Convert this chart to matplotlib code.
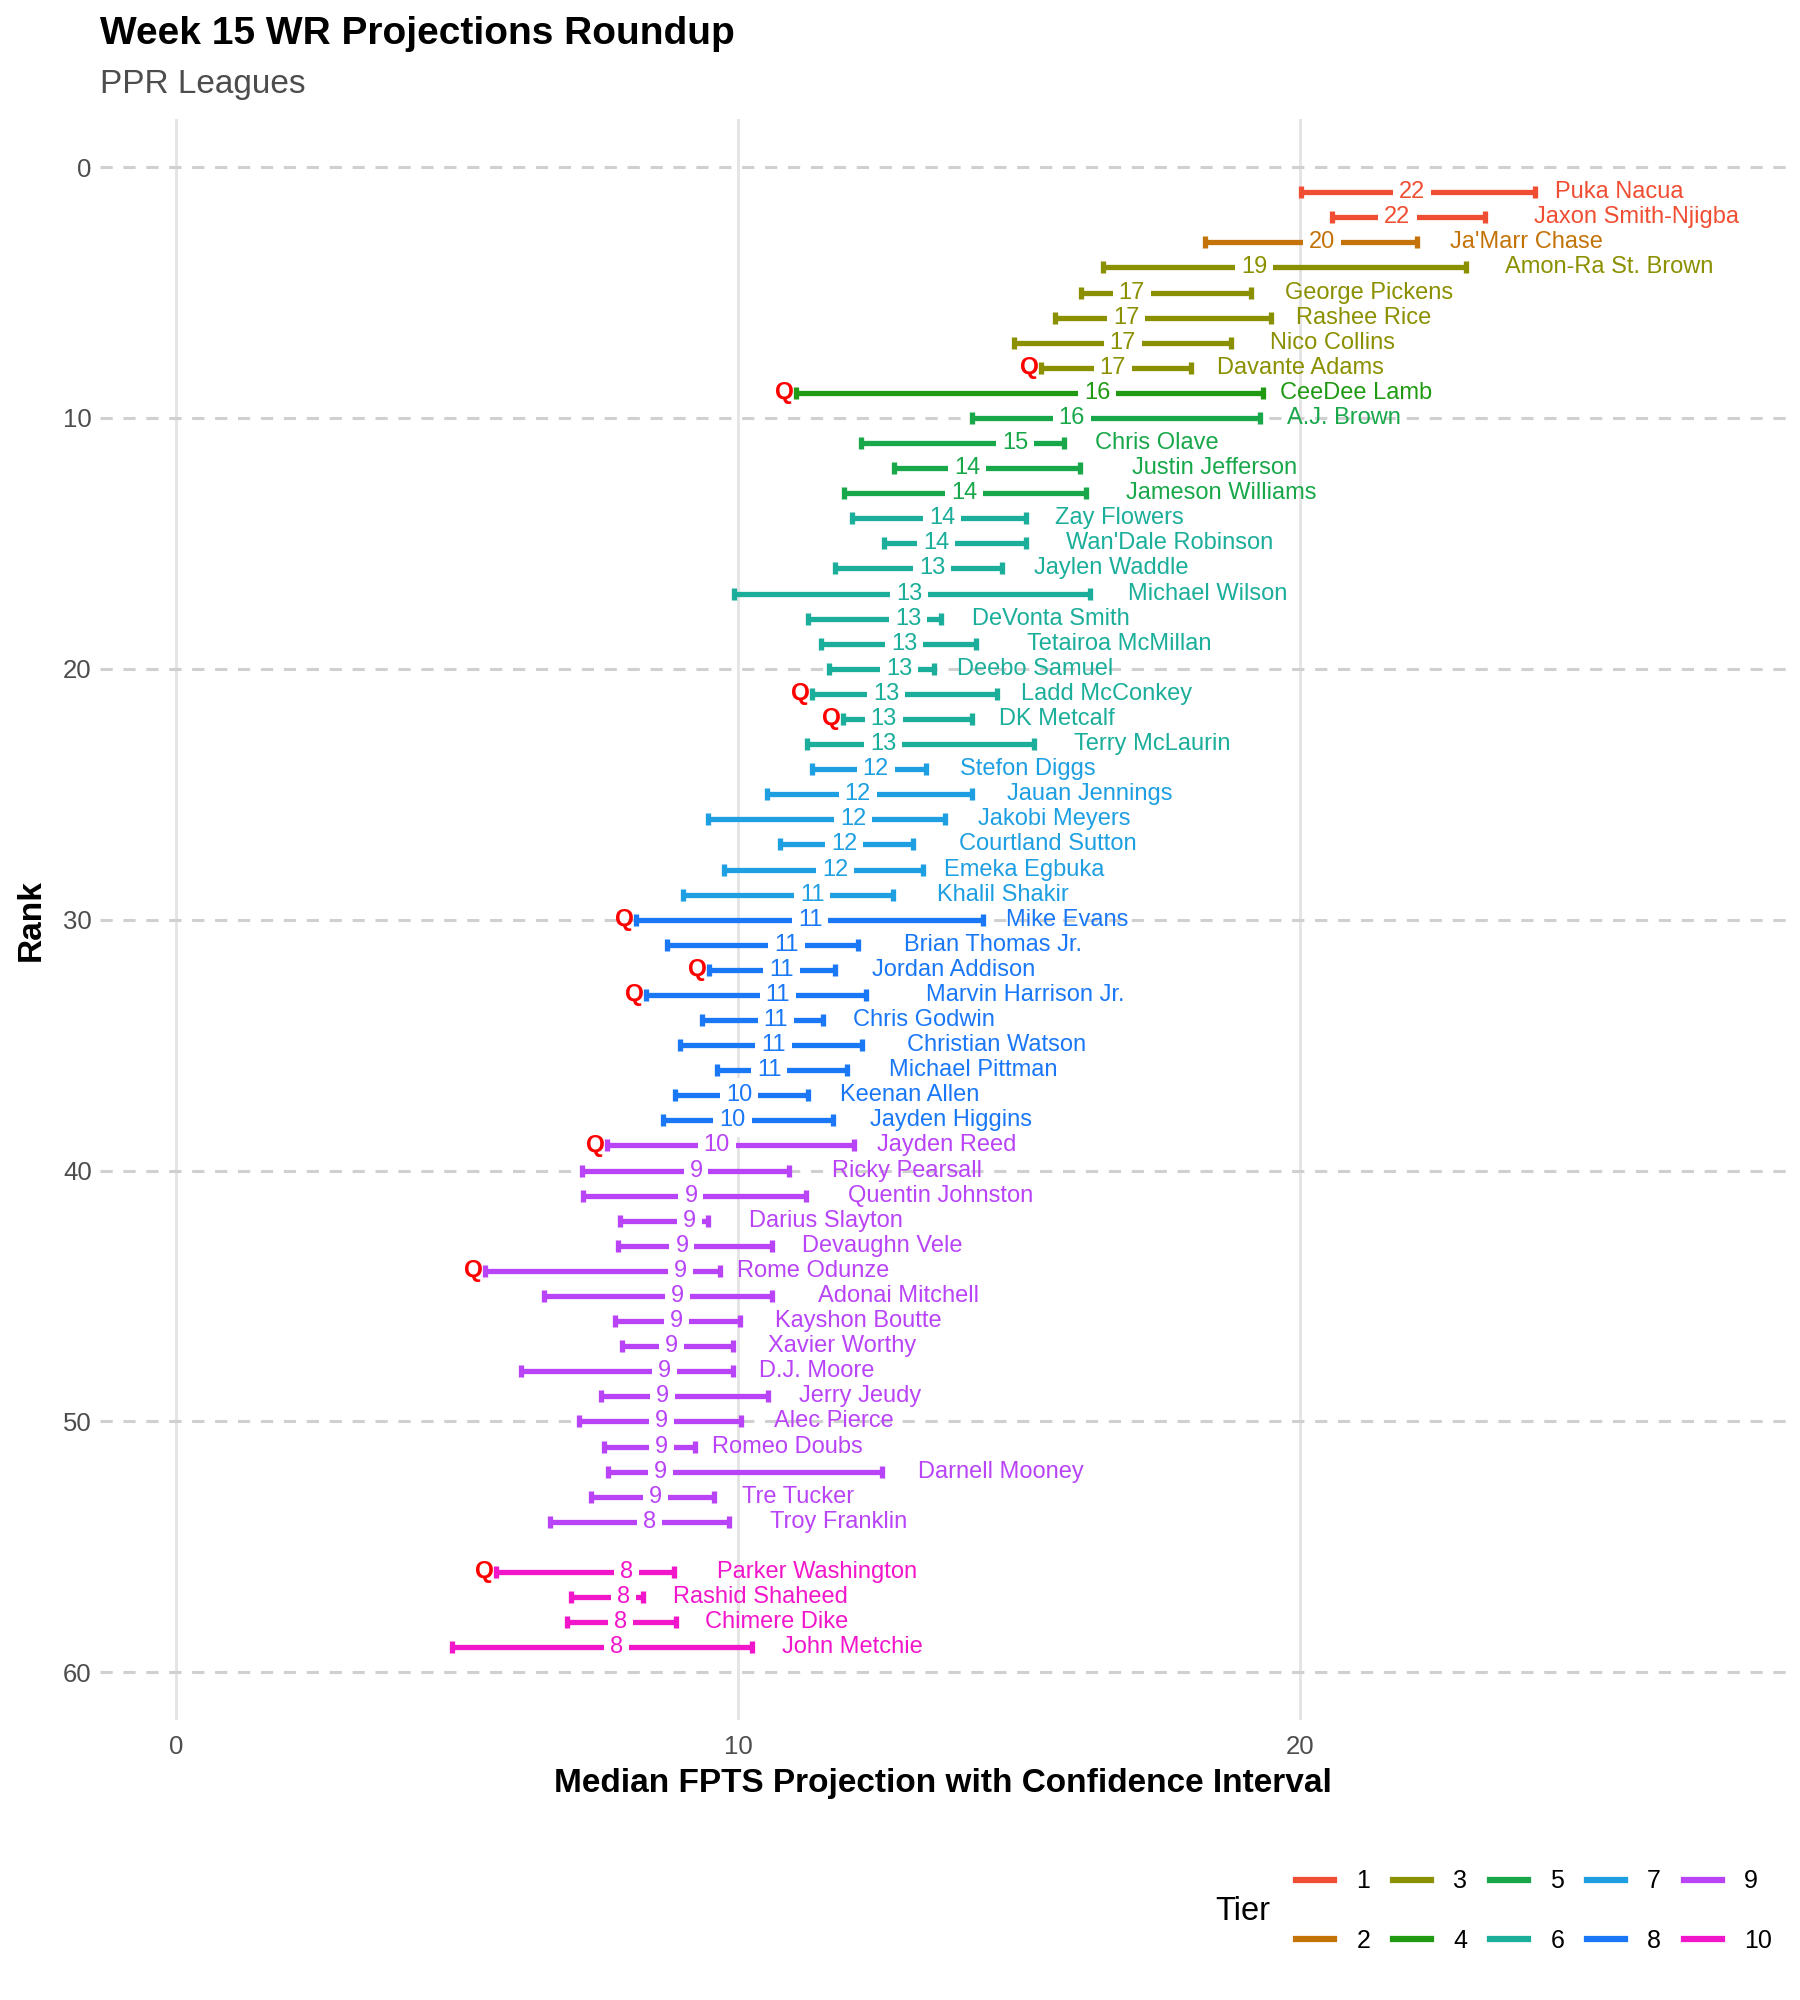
import matplotlib
matplotlib.use("Agg")
import matplotlib.pyplot as plt
from matplotlib.lines import Line2D

plt.rcParams['font.family'] = ['Liberation Sans', 'DejaVu Sans']

# values
players = ["Puka Nacua", "Jaxon Smith-Njigba", "Ja'Marr Chase", "Amon-Ra St. Brown",
           "George Pickens", "Rashee Rice", "Nico Collins", "Davante Adams",
           "CeeDee Lamb", "A.J. Brown", "Chris Olave", "Justin Jefferson",
           "Jameson Williams", "Zay Flowers", "Wan'Dale Robinson", "Jaylen Waddle",
           "Michael Wilson", "DeVonta Smith", "Tetairoa McMillan", "Deebo Samuel",
           "Ladd McConkey", "DK Metcalf", "Terry McLaurin", "Stefon Diggs",
           "Jauan Jennings", "Jakobi Meyers", "Courtland Sutton", "Emeka Egbuka",
           "Khalil Shakir", "Mike Evans", "Brian Thomas Jr.", "Jordan Addison",
           "Marvin Harrison Jr.", "Chris Godwin", "Christian Watson", "Michael Pittman",
           "Keenan Allen", "Jayden Higgins", "Jayden Reed", "Ricky Pearsall",
           "Quentin Johnston", "Darius Slayton", "Devaughn Vele", "Rome Odunze",
           "Adonai Mitchell", "Kayshon Boutte", "Xavier Worthy", "D.J. Moore",
           "Jerry Jeudy", "Alec Pierce", "Romeo Doubs", "Darnell Mooney",
           "Tre Tucker", "Troy Franklin", "Parker Washington", "Rashid Shaheed",
           "Chimere Dike", "John Metchie"]
ranks = list(range(1, 55)) + [56, 57, 58, 59]
tiers = [1, 1, 2, 3, 3, 3, 3, 3, 4, 5, 5, 5, 5,
         6, 6, 6, 6, 6, 6, 6, 6, 6, 6,
         7, 7, 7, 7, 7, 7,
         8, 8, 8, 8, 8, 8, 8, 8, 8,
         9, 9, 9, 9, 9, 9, 9, 9, 9, 9, 9, 9, 9, 9, 9, 9,
         10, 10, 10, 10]
lows = [20.02, 20.57, 18.31, 16.50, 16.11, 15.64, 14.92, 15.39, 11.03, 14.17,
        12.19, 12.77, 11.89, 12.02, 12.59, 11.73, 9.92, 11.24, 11.47, 11.62,
        11.32, 11.87, 11.22, 11.31, 10.52, 9.46, 10.75, 9.75, 9.01, 8.18,
        8.73, 9.48, 8.36, 9.35, 8.97, 9.62, 8.87, 8.67, 7.67, 7.22,
        7.24, 7.90, 7.86, 5.49, 6.55, 7.80, 7.93, 6.14, 7.55, 7.17,
        7.61, 7.68, 7.38, 6.65, 5.69, 7.02, 6.96, 4.90]
medians = [22.00, 21.74, 20.40, 19.19, 17.01, 16.91, 16.85, 16.67, 16.39, 15.94,
           14.93, 14.08, 14.03, 13.63, 13.53, 13.46, 13.05, 13.03, 12.96, 12.87,
           12.64, 12.59, 12.58, 12.45, 12.13, 12.05, 11.89, 11.73, 11.32, 11.28,
           10.86, 10.77, 10.71, 10.67, 10.63, 10.55, 10.02, 9.90, 9.62, 9.25,
           9.16, 9.13, 9.00, 8.98, 8.92, 8.90, 8.82, 8.69, 8.66, 8.63,
           8.63, 8.62, 8.53, 8.42, 8.01, 7.96, 7.91, 7.84]
highs = [24.18, 23.29, 22.08, 22.96, 19.13, 19.48, 18.78, 18.07, 19.35, 19.29,
         15.80, 16.08, 16.20, 15.13, 15.13, 14.69, 16.26, 13.62, 14.23, 13.49,
         14.61, 14.17, 15.27, 13.35, 14.16, 13.68, 13.11, 13.30, 12.76, 14.36,
         12.14, 11.73, 12.27, 11.51, 12.21, 11.94, 11.25, 11.69, 12.06, 10.90,
         11.21, 9.47, 10.61, 9.68, 10.61, 10.04, 9.90, 9.90, 10.53, 10.05,
         9.23, 12.57, 9.57, 9.84, 8.86, 8.30, 8.89, 10.24]
questionable = ["Davante Adams", "CeeDee Lamb", "Ladd McConkey", "DK Metcalf",
                "Mike Evans", "Jordan Addison", "Marvin Harrison Jr.", "Jayden Reed",
                "Rome Odunze", "Parker Washington"]

tier_colors = {1: "#F04E33", 2: "#C47308", 3: "#8B9000", 4: "#1F9A12", 5: "#18A84A",
               6: "#1BAE9A", 7: "#1D9FE2", 8: "#1A78F7", 9: "#B944F7", 10: "#F216CB"}

fig = plt.figure(figsize=(18, 20), dpi=100)
ax = fig.add_axes([0.0556, 0.14, 0.9364, 0.8003])

for name, r, t, lo, md, hi in zip(players, ranks, tiers, lows, medians, highs):
    c = tier_colors[t]
    ax.errorbar(md, r, xerr=[[md - lo], [hi - md]], fmt='none', ecolor=c,
                elinewidth=3.8, capsize=4, capthick=3.8, zorder=3)
    ax.text(md, r, f"{md:.0f}", color=c, fontsize=17, ha='center', va='center',
            zorder=4, bbox=dict(boxstyle='square,pad=0.25', fc='white', ec='none'))
    # name sits to the right of the interval, further out for longer names
    ax.text(hi + 0.15 * len(name), r, name, color=c, fontsize=17,
            ha='center', va='center', zorder=4)
    if name in questionable:
        ax.text(lo - 0.04, r, "Q", color="#FF0000", fontsize=17.5, fontweight='bold',
                ha='right', va='center', zorder=4)

ax.set_xlim(-1.36, 28.65)
ax.set_ylim(61.9, -1.9)
ax.set_xticks([0, 10, 20])
ax.set_yticks(range(0, 61, 10))
ax.grid(axis='x', color='#E3E3E3', linewidth=2, zorder=0)
ax.grid(axis='y', color='#D0D0D0', linewidth=2.2, linestyle=(0, (4, 3.5)), zorder=0)
for s in ax.spines.values():
    s.set_visible(False)
ax.tick_params(length=0, labelsize=18.5, labelcolor='#4D4D4D')
ax.tick_params(axis='x', pad=11)
ax.tick_params(axis='y', pad=6)
ax.set_xlabel("Median FPTS Projection with Confidence Interval", fontsize=24,
              fontweight='bold', labelpad=6)
ax.set_ylabel("Rank", fontsize=24, fontweight='bold', labelpad=12)

fig.text(0.0556, 0.983, "Week 15 WR Projections Roundup", fontsize=28,
         fontweight='bold', ha='left', va='center')
fig.text(0.0556, 0.958, "PPR Leagues", fontsize=24, color='#4D4D4D',
         ha='left', va='center')

handles = [Line2D([], [], color=tier_colors[t], linewidth=4.5) for t in range(1, 11)]
fig.legend(handles, [str(t) for t in range(1, 11)], ncol=5, frameon=False,
           loc='center left', bbox_to_anchor=(0.713, 0.0445), fontsize=18,
           handlelength=1.52, handletextpad=0.9, columnspacing=0.9,
           labelspacing=1.4, borderpad=0)
fig.text(0.675, 0.0445, "Tier", fontsize=23.5, ha='left', va='center')

fig.savefig("out.png", dpi=100)
